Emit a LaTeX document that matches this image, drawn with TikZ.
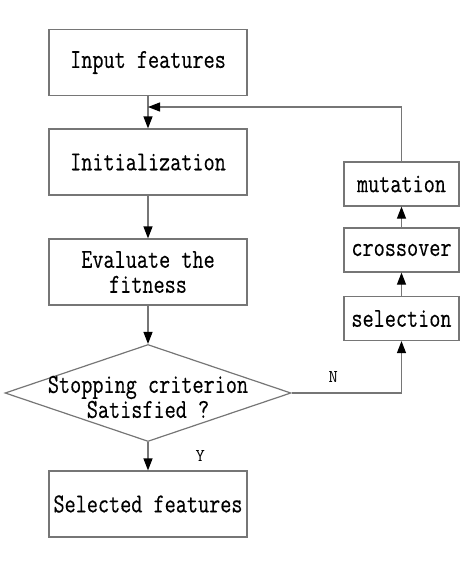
\documentclass[tikz,border=0pt]{standalone}
\usepackage{fontspec}
\usetikzlibrary{arrows.meta,shapes.geometric}
\definecolor{linegray}{RGB}{118,118,118}
\newfontfamily\flowfamily{Latin Modern Mono}[FakeStretch=0.79,FakeBold=0.35]
\newcommand{\flowfont}{\flowfamily\fontsize{20.5}{18.75}\selectfont}
\newcommand{\tagfont}{\ttfamily\fontsize{13.5}{15}\selectfont}
\begin{document}
\begin{tikzpicture}[x=0.75pt,y=-0.75pt,line width=0.9pt,
  box/.style={draw=linegray, rectangle, minimum width=148.5pt, minimum height=49.5pt, align=center, font=\flowfont},
  opbox/.style={draw=linegray, rectangle, minimum width=86.25pt, minimum height=33pt, font=\flowfont},
  decision/.style={draw=linegray, diamond, aspect=2.95, inner sep=0pt, minimum width=214.5pt, minimum height=72.75pt},
  flow/.style={draw=linegray, -{Triangle[length=9pt,width=6.75pt,color=black]}}]
\useasboundingbox (0,0) rectangle (474,565);
\node[box] (inp) at (148,62.5) {Input features};
\node[box] (init) at (148,162) {Initialization};
\node[box] (eval) at (148,272) {Evaluate the\\fitness};
\node[decision, label={[font=\flowfont, align=center, yshift=-3pt]center:{Stopping criterion\\Satisfied ?}}] (stop) at (148,393) {};
\node[box] (out) at (148,504) {Selected features};
\node[opbox] (sel) at (401.5,318.5) {selection};
\node[opbox] (cross) at (401.5,250) {crossover};
\node[opbox] (mut) at (401.5,184) {mutation};
\coordinate (back) at (148,107);
\draw[flow] (inp) -- (init);
\draw[flow] (init) -- (eval);
\draw[flow] (eval) -- (stop);
\draw[flow] (stop) -- node[right=32pt, font=\tagfont] {Y} (out);
\draw[flow] (stop.east) -| node[pos=0.19, above=4pt, font=\tagfont] {N} (sel.south);
\draw[flow] (sel) -- (cross);
\draw[flow] (cross) -- (mut);
\draw[flow] (mut.north) |- (back);
\end{tikzpicture}
\end{document}
